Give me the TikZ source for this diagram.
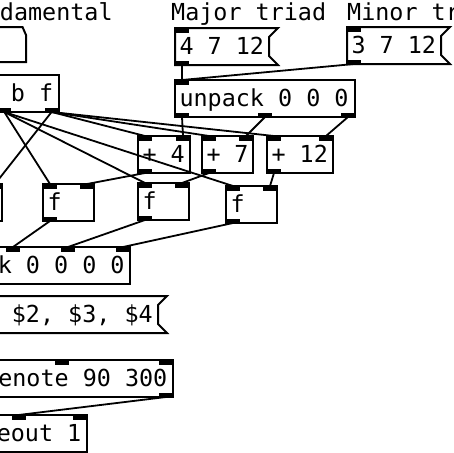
\documentclass[tikz,border=0pt]{standalone}
\usepackage{fontspec}
\newfontfamily\pdfont{DejaVu Sans Mono}
\usetikzlibrary{calc}

\begin{document}
\begin{tikzpicture}[x=1pt, y=-1pt,
  obj/.style={rectangle, draw, line width=2pt, anchor=north west, outer sep=0pt,
              inner xsep=4.5pt, inner ysep=0pt, align=flush left,
              text height=26.5pt, text depth=10.5pt,
              font=\pdfont\fontsize{23.4}{24}\selectfont},
  msg/.style={obj, draw opacity=0},
  ports/.style 2 args={path picture={
    \foreach \k in {1,...,#1}
      \fill let \p1=(path picture bounding box.north west),
                \p2=(path picture bounding box.south east) in
        ({\x1+(\k-1)*(\x2-\x1-14pt)/max(#1-1,1)}, \y1) rectangle ++(14,4.5);
    \ifnum#2>0
    \foreach \k in {1,...,#2}
      \fill let \p1=(path picture bounding box.north west),
                \p2=(path picture bounding box.south east) in
        ({\x1+(\k-1)*(\x2-\x1-14pt)/max(#2-1,1)}, \y2) rectangle ++(14,-4.5);
    \fi}},
  cmt/.style={anchor=base west, inner sep=0pt,
              font=\pdfont\fontsize{23.4}{24}\selectfont},
  wire/.style={line width=1.8pt}
]
\useasboundingbox (0,0) rectangle (453,453);
\clip (0,0) rectangle (453,453);

% comments
\node[cmt] (cFund)  at (-42.5,20) {Fundamental};
\node[cmt] (cMajor) at (171,20)   {Major triad};
\node[cmt] (cMinor) at (347,20)   {Minor triad};

% inputs
\node[msg, text width=51pt, text height=24.5pt] (fund) at (-34,27) {};
\node[msg, ports={1}{1}, text width=85pt] (major) at (175,28) {4 7 12};
\node[msg, ports={1}{1}, text width=85pt] (minor) at (347,27) {3 7 12};

\node[obj, ports={1}{3}, text width=99.6pt] (tbf)    at (-50,75) {t b b f};
\node[obj, ports={1}{3}, text width=171pt]  (unpack) at (175,80) {unpack 0 0 0};

\node[obj, ports={2}{1}, text width=43pt] (plus4)  at (138,136) {+ 4};
\node[obj, ports={2}{1}, text width=42pt] (plus7)  at (202,136) {+ 7};
\node[obj, ports={2}{1}, text width=57pt] (plus12) at (267,136) {+ 12};

\node[obj, ports={2}{1}, text width=42pt] (f0) at (-49,184) {f};
\node[obj, ports={2}{1}, text width=42pt] (f1) at (43,184)  {f};
\node[obj, ports={2}{1}, text width=42pt] (f2) at (138,183) {f};
\node[obj, ports={2}{1}, text width=42pt] (f3) at (226,186) {f};

\node[obj, ports={4}{1}, text width=170pt] (pack) at (-49,247) {pack 0 0 0 0};
\node[msg, ports={1}{1}, text width=198pt] (dollar) at (-49,296) {\$1, \$2, \$3, \$4};

\node[obj, ports={3}{2}, text width=212.5pt] (makenote) at (-48.5,360) {makenote 90 300};
\node[obj, ports={3}{0}, text width=128pt]   (noteout)  at (-50,415)   {noteout 1};

% number box with its cut corner
\draw[line width=2pt] (fund.north west) -- ($(fund.north east)+(-3.5,0)$)
  -- ($(fund.north east)+(0,8)$) -- (fund.south east) -- (fund.south west) -- cycle;

% message box outlines
\foreach \m in {major, minor, dollar}
  \draw[line width=2pt] (\m.north west) -- ($(\m.north east)+(9,0)$)
    -- ($(\m.north east)+(0,9)$) -- ($(\m.south east)+(0,-9)$)
    -- ($(\m.south east)+(9,0)$) -- (\m.south west) -- cycle;

% chord intervals
\draw[wire] ($(major.south west)+(7,0)$) -- ($(unpack.north west)+(7,0)$);
\draw[wire] ($(minor.south west)+(7,0)$) -- ($(unpack.north west)+(7,0)$);
\draw[wire] ($(unpack.south west)+(7,0)$) -- ($(plus4.north east)+(-7,0)$);
\draw[wire] (unpack.south) -- ($(plus7.north east)+(-7,0)$);
\draw[wire] ($(unpack.south east)+(-7,0)$) -- ($(plus12.north east)+(-7,0)$);

% fundamental into the adders
\draw[wire] ($(tbf.south east)+(-7,0)$) -- ($(plus4.north west)+(7,0)$);
\draw[wire] ($(tbf.south east)+(-7,0)$) -- ($(plus7.north west)+(7,0)$);
\draw[wire] ($(tbf.south east)+(-7,0)$) -- ($(plus12.north west)+(7,0)$);
\draw[wire] ($(tbf.south east)+(-7,0)$) -- ($(f0.north east)+(-7,0)$);

% bangs
\draw[wire] (tbf.south) -- ($(f1.north west)+(7,0)$);
\draw[wire] (tbf.south) -- ($(f2.north west)+(7,0)$);
\draw[wire] (tbf.south) -- ($(f3.north west)+(7,0)$);

\draw[wire] ($(plus4.south west)+(7,0)$)  -- ($(f1.north east)+(-7,0)$);
\draw[wire] ($(plus7.south west)+(7,0)$)  -- ($(f2.north east)+(-7,0)$);
\draw[wire] ($(plus12.south west)+(7,0)$) -- ($(f3.north east)+(-7,0)$);

\draw[wire] ($(f1.south west)+(7,0)$) -- ($(pack.north west)+(62,0)$);
\draw[wire] ($(f2.south west)+(7,0)$) -- ($(pack.north west)+(117,0)$);
\draw[wire] ($(f3.south west)+(7,0)$) -- ($(pack.north east)+(-7,0)$);

\draw[wire] ($(makenote.south east)+(-7,0)$) -- (noteout.north);
\end{tikzpicture}
\end{document}
